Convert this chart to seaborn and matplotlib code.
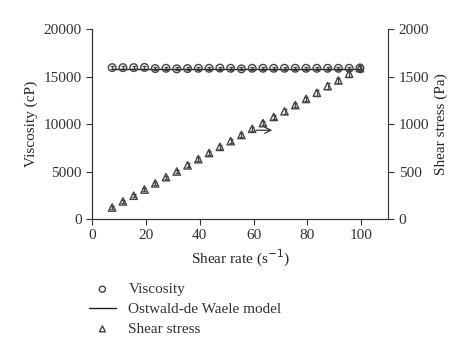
import numpy as np
import pandas as pd
import matplotlib
matplotlib.use('Agg')
import matplotlib.pyplot as plt
import seaborn as sns

# Data
shear_rate = [7.5, 11.5, 15.5, 19.5, 23.5, 27.5, 31.5, 35.5, 39.5, 43.5, 47.5, 51.5,
              55.5, 59.5, 63.5, 67.5, 71.5, 75.5, 79.5, 83.5, 87.5, 91.5, 95.5, 99.5]
viscosity = [15950, 15950, 15950, 15970, 15850, 15880, 15820, 15850, 15880, 15880, 15900, 15880,
             15820, 15880, 15880, 15880, 15880, 15880, 15880, 15880, 15880, 15880, 15880, 15900]
viscosity_err = [150, 150, 150, 150, 150, 150, 150, 150, 150, 150, 150, 150,
                 150, 150, 150, 150, 150, 150, 150, 150, 150, 150, 150, 250]
shear_stress = [120, 185, 245, 310, 375, 440, 500, 565, 630, 695, 760, 820,
                885, 950, 1010, 1075, 1135, 1200, 1265, 1330, 1400, 1460, 1530, 1590]
stress_err = [15, 15, 15, 15, 15, 15, 15, 20, 20, 20, 20, 20,
              20, 20, 25, 25, 25, 25, 25, 30, 30, 30, 30, 40]
model_rate = [7.5, 100]
model_visc = [15820, 15820]

df = pd.DataFrame({'rate': shear_rate, 'visc': viscosity, 'stress': shear_stress})
model = pd.DataFrame({'rate': model_rate, 'visc': model_visc})

sns.set_style('ticks')
plt.rcParams['font.family'] = ['Liberation Serif', 'DejaVu Serif']
plt.rcParams['font.size'] = 11
plt.rcParams['axes.edgecolor'] = '#333333'
plt.rcParams['text.color'] = '#333333'
plt.rcParams['xtick.color'] = '#333333'
plt.rcParams['ytick.color'] = '#333333'

col = '#444444'
fig = plt.figure(figsize=(4.74, 3.56), dpi=100)
ax = fig.add_axes([0.194, 0.385, 0.625, 0.533])
ax2 = ax.twinx()

# Viscosity + model on left axis
ax.errorbar(shear_rate, viscosity, yerr=viscosity_err, fmt='none', ecolor=col, elinewidth=0.8, capsize=1.5)
sns.lineplot(data=model, x='rate', y='visc', ax=ax, color='#222222', linewidth=1.0, label='Ostwald-de Waele model')
sns.scatterplot(data=df, x='rate', y='visc', ax=ax, marker='o', s=30, facecolor='none',
                edgecolor=col, linewidth=1.0, label='Viscosity', zorder=3)

# Shear stress on right axis
ax2.errorbar(shear_rate, shear_stress, yerr=stress_err, fmt='none', ecolor=col, elinewidth=0.8, capsize=1.5)
sns.scatterplot(data=df, x='rate', y='stress', ax=ax2, marker='^', s=28, facecolor='none',
                edgecolor=col, linewidth=1.0, label='Shear stress', zorder=3)
ax2.annotate('', xy=(68, 935), xytext=(60, 935),
             arrowprops=dict(arrowstyle='->', color='#333333', lw=0.9))

ax.set_xlim(0, 110)
ax.set_ylim(0, 20000)
ax2.set_ylim(0, 2000)
ax.set_xticks([0, 20, 40, 60, 80, 100])
ax.set_yticks([0, 5000, 10000, 15000, 20000])
ax2.set_yticks([0, 500, 1000, 1500, 2000])
ax.set_xlabel('Shear rate (s$^{-1}$)')
ax.set_ylabel('Viscosity (cP)')
ax2.set_ylabel('Shear stress (Pa)')
for a in (ax, ax2):
    a.spines['top'].set_visible(False)
    a.tick_params(direction='out', length=4, width=0.8)
ax.spines['right'].set_visible(False)

h1, l1 = ax.get_legend_handles_labels()
h2, l2 = ax2.get_legend_handles_labels()
ax.get_legend().remove()
ax2.get_legend().remove()
handles = [h1[1], h1[0], h2[0]]
labels = [l1[1], l1[0], l2[0]]
leg = fig.legend(handles, labels, loc='upper left', bbox_to_anchor=(0.158, 0.245), frameon=False,
                 handlelength=1.8, labelspacing=0.4, handletextpad=0.8, fontsize=11,
                 markerscale=0.8, bbox_transform=fig.transFigure)

fig.savefig('out.png', dpi=100)
